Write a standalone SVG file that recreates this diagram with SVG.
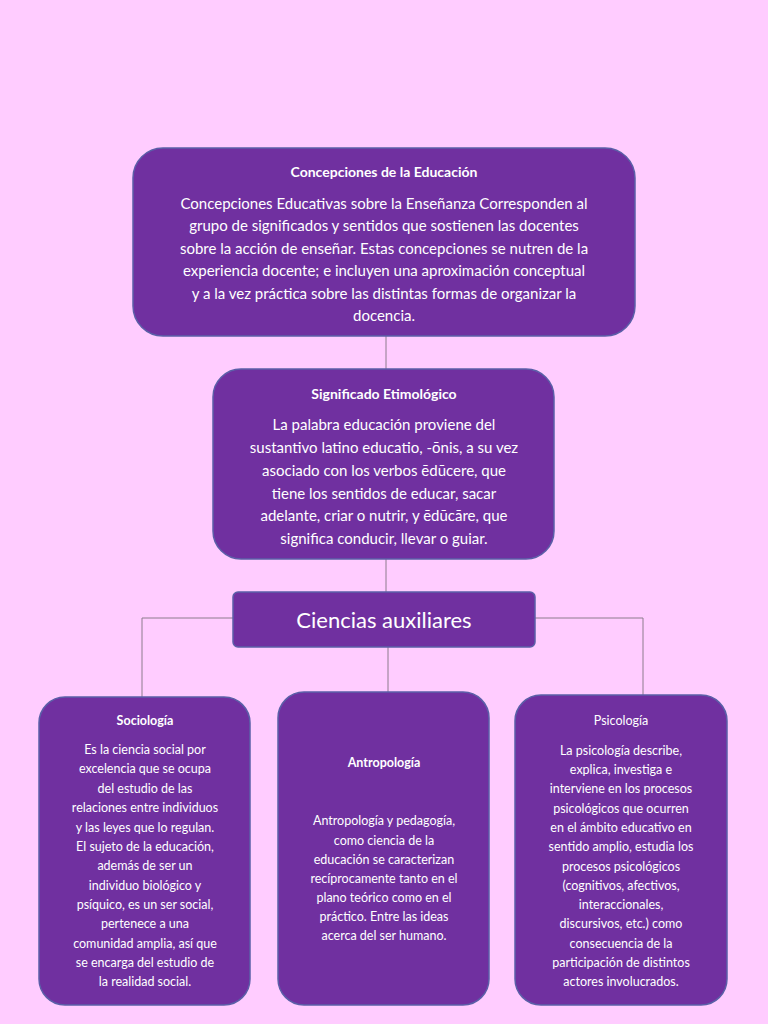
<svg xmlns="http://www.w3.org/2000/svg" width="768" height="1024" viewBox="0 0 768 1024">
<style>
.b{fill:#7030a0;stroke:#5b5fa8;stroke-width:1.5}
text{font-family:Lato,"Open Sans",sans-serif;fill:#fff;text-anchor:middle}
.t{font-weight:bold;font-size:14px}
.p{font-size:15px}
.s{font-size:12.5px}
.st{font-size:12.5px;font-weight:bold}
.c{stroke:#8c7c8c;stroke-width:1;fill:none}
</style>
<rect width="768" height="1024" fill="#ffccff"/>
<g id="connectors">
<path class="c" d="M386 336V369M386 559V592M388 647V692M233 618H142V697M535 618H643V695"/>
</g>
<g id="n1">
<rect class="b" x="133" y="148" width="502" height="188" rx="30"/>
<text class="t" x="384" y="177">Concepciones de la Educación</text>
<text class="p" x="384" y="209">Concepciones Educativas sobre la Enseñanza Corresponden al</text>
<text class="p" x="384" y="231">grupo de significados y sentidos que sostienen las docentes</text>
<text class="p" x="384" y="254">sobre la acción de enseñar. Estas concepciones se nutren de la</text>
<text class="p" x="384" y="276">experiencia docente; e incluyen una aproximación conceptual</text>
<text class="p" x="384" y="299">y a la vez práctica sobre las distintas formas de organizar la</text>
<text class="p" x="384" y="321">docencia.</text>
</g>
<g id="n2">
<rect class="b" x="213" y="369" width="341" height="190" rx="28"/>
<text class="t" x="384" y="399">Significado Etimológico</text>
<text class="p" x="384" y="430">La palabra educación proviene del</text>
<text class="p" x="384" y="453">sustantivo latino educatio, -ōnis, a su vez</text>
<text class="p" x="384" y="476">asociado con los verbos ēdūcere, que</text>
<text class="p" x="384" y="499">tiene los sentidos de educar, sacar</text>
<text class="p" x="384" y="521">adelante, criar o nutrir, y ēdūcāre, que</text>
<text class="p" x="384" y="544">significa conducir, llevar o guiar.</text>
</g>
<g id="n3">
<rect class="b" x="233" y="592" width="302" height="55" rx="5"/>
<text x="384" y="628" font-size="22">Ciencias auxiliares</text>
</g>
<g id="n4">
<rect class="b" x="39" y="697" width="211" height="308" rx="26"/>
<text class="st" x="145" y="725">Sociología</text>
<g class="s">
<text class="s" x="145" y="754">Es la ciencia social por</text>
<text class="s" x="145" y="773">excelencia que se ocupa</text>
<text class="s" x="145" y="793">del estudio de las</text>
<text class="s" x="145" y="812">relaciones entre individuos</text>
<text class="s" x="145" y="832">y las leyes que lo regulan.</text>
<text class="s" x="145" y="851">El sujeto de la educación,</text>
<text class="s" x="145" y="870">además de ser un</text>
<text class="s" x="145" y="890">individuo biológico y</text>
<text class="s" x="145" y="909">psíquico, es un ser social,</text>
<text class="s" x="145" y="928">pertenece a una</text>
<text class="s" x="145" y="948">comunidad amplia, así que</text>
<text class="s" x="145" y="967">se encarga del estudio de</text>
<text class="s" x="145" y="986">la realidad social.</text>
</g>
</g>
<g id="n5">
<rect class="b" x="278" y="692" width="211" height="313" rx="26"/>
<text class="st" x="384" y="767">Antropología</text>
<text class="s" x="384" y="825">Antropología y pedagogía,</text>
<text class="s" x="384" y="845">como ciencia de la</text>
<text class="s" x="384" y="864">educación se caracterizan</text>
<text class="s" x="384" y="883">recíprocamente tanto en el</text>
<text class="s" x="384" y="902">plano teórico como en el</text>
<text class="s" x="384" y="921">práctico. Entre las ideas</text>
<text class="s" x="384" y="940">acerca del ser humano.</text>
</g>
<g id="n6">
<rect class="b" x="515" y="695" width="212" height="310" rx="26"/>
<text class="s" x="621" y="725">Psicología</text>
<text class="s" x="621" y="755">La psicología describe,</text>
<text class="s" x="621" y="774">explica, investiga e</text>
<text class="s" x="621" y="793">interviene en los procesos</text>
<text class="s" x="621" y="813">psicológicos que ocurren</text>
<text class="s" x="621" y="832">en el ámbito educativo en</text>
<text class="s" x="621" y="851">sentido amplio, estudia los</text>
<text class="s" x="621" y="871">procesos psicológicos</text>
<text class="s" x="621" y="890">(cognitivos, afectivos,</text>
<text class="s" x="621" y="909">interaccionales,</text>
<text class="s" x="621" y="928">discursivos, etc.) como</text>
<text class="s" x="621" y="948">consecuencia de la</text>
<text class="s" x="621" y="967">participación de distintos</text>
<text class="s" x="621" y="986">actores involucrados.</text>
</g>
</svg>
